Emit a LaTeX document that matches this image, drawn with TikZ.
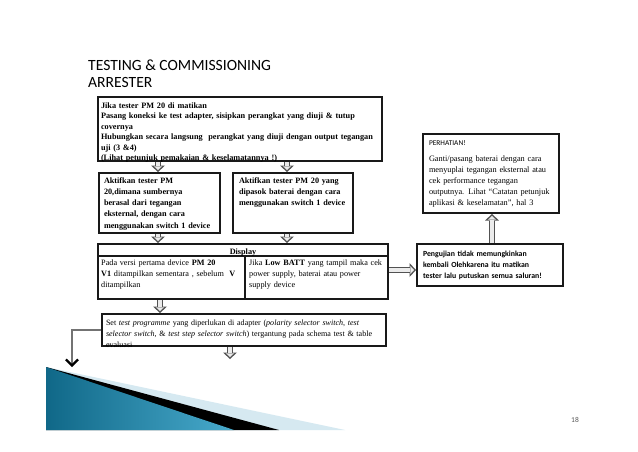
\documentclass[tikz,border=0pt]{standalone}
\usepackage{fontspec}
\setmainfont{Liberation Serif}
\newfontfamily\calib{Carlito}
\usetikzlibrary{arrows.meta,calc}
\definecolor{teala}{RGB}{16,104,136}
\definecolor{tealb}{RGB}{72,170,204}
\definecolor{lblue}{RGB}{214,233,241}
\definecolor{boxline}{RGB}{25,25,25}
\newcommand\blockarr[2]{%
  \draw[barouter] #1 -- #2;
  \draw[barinner] #1 -- #2;}
\begin{document}
\begin{tikzpicture}[x=1pt,y=-1pt,
  box/.style={draw=boxline, line width=2pt, fill=white, anchor=north west,
    align=left, inner xsep=4pt, inner ysep=2pt},
  rfont/.style={font=\fontsize{8.2}{11.2}\selectfont},
  barouter/.style={line width=6.5pt, draw=black!68,
    -{Triangle[length=6.5pt,width=14pt,line width=0pt]}},
  barinner/.style={line width=3.3pt, draw=white!92!black,
    -{Triangle[length=3.8pt,width=8pt,line width=0pt]}, shorten >=1.9pt},
  txt/.style={inner sep=0pt, align=left}
]
\useasboundingbox[fill=white] (0,0) rectangle (638,451);

% title
\node[txt, anchor=base west, font=\calib\fontsize{15.6}{18}\selectfont, text=black] (t1) at (88,70.5) {TESTING \& COMMISSIONING};
\node[txt, anchor=base west, font=\calib\fontsize{15.6}{18}\selectfont, text=black] (t2) at (88,87) {ARRESTER};

% boxes
\node[box, font=\bfseries\fontsize{8.25}{10.4}\selectfont, inner xsep=3pt, text width=278pt, text height=9.5pt, text depth=50.5pt] (b1) at (97,96)
{Jika tester PM 20 di matikan\\
Pasang koneksi ke test adapter, sisipkan perangkat yang diuji \& tutup\\
covernya\\
Hubungkan secara langsung\ \ perangkat yang diuji dengan output tegangan\\
uji (3 \&4)\\
(Lihat petunjuk pemakaian \& keselamatannya !)};

\node[box, font=\bfseries\fontsize{8.2}{11.3}\selectfont, inner xsep=5pt, text width=111pt, text height=8pt, text depth=48pt] (b2a) at (98,172)
{Aktifkan tester PM\\
20,dimana sumbernya\\
berasal dari tegangan\\
eksternal, dengan cara\\
menggunakan switch 1 device};

\node[box, font=\bfseries\fontsize{8.2}{11.3}\selectfont, inner xsep=6pt, text width=108pt, text height=8pt, text depth=48pt] (b2b) at (232,172)
{Aktifkan tester PM 20 yang\\
dipasok baterai dengan cara\\
menggunakan switch 1 device};

\node[box, font=\fontsize{8.3}{11}\selectfont, inner xsep=6pt, text width=124pt, text height=9pt, text depth=66pt] (perh) at (422,133)
{{\calib\fontsize{7.4}{8}\selectfont PERHATIAN!}\\[5pt]
Ganti/pasang baterai dengan cara\\
menyuplai tegangan eksternal atau\\
cek performance tegangan\\
outputnya. Lihat “Catatan petunjuk\\
aplikasi \& keselamatan”, hal 3};

% display
\node[box, minimum width=290pt, minimum height=55pt, inner sep=0pt] (disp) at (97,243) {};
\draw[boxline, line width=1.4pt] ($(disp.north west)+(0,13)$) -- ($(disp.north east)+(0,13)$);
\draw[boxline, line width=2pt] ($(disp.north west)+(148,13)$) -- ($(disp.south west)+(148,0)$);
\node[txt, anchor=base, font=\bfseries\fontsize{8.2}{9}\selectfont] (dhead) at (243,254) {Display};
\node[txt, rfont, anchor=base west, text width=142pt] (dleft) at (101,265)
{Pada versi pertama device \textbf{PM 20}\\
\textbf{V1} ditampilkan sementara , sebelum\ \ \textbf{V}\\
ditampilkan};
\node[txt, rfont, anchor=base west, text width=136pt] (dright) at (249,265)
{Jika \textbf{Low BATT} yang tampil maka cek\\
power supply, baterai atau power\\
supply device};

\node[box, font=\calib\bfseries\fontsize{7.8}{11.3}\selectfont, inner xsep=6pt, text width=134pt, text height=10pt, text depth=28pt] (peng) at (416,243)
{Pengujian tidak memungkinkan\\
kembali Olehkarena itu matikan\\
tester lalu putuskan semua saluran!};

\node[box, font=\fontsize{8.05}{11.3}\selectfont, inner xsep=4pt, text width=276pt, text height=9pt, text depth=19pt] (setb) at (101,313)
{Set \textit{test programme} yang diperlukan di adapter (\textit{polarity selector switch}, \textit{test}\\
\textit{selector switch}, \& \textit{test step selector switch}) tergantung pada schema test \& table\\
evaluasi};

% arrow coordinates
\coordinate (xa) at (158,0);
\coordinate (xb) at (287,0);
\coordinate (xc) at (160,0);
\coordinate (xd) at (230,0);
\coordinate (xe) at (492,0);
\coordinate (ya) at (0,270);
\coordinate (yb) at (0,330);
\coordinate (endd) at (230,359);
\coordinate (endl) at (72,367);

\blockarr{(b1.south -| xa)}{(b2a.north -| xa)}
\blockarr{(b1.south -| xb)}{(b2b.north -| xb)}
\blockarr{(b2a.south -| xa)}{(disp.north -| xa)}
\blockarr{(b2b.south -| xb)}{(disp.north -| xb)}
\blockarr{(disp.south -| xc)}{(setb.north -| xc)}
\blockarr{(setb.south -| xd)}{(endd)}
\blockarr{(disp.east |- ya)}{(peng.west |- ya)}
\blockarr{(peng.north -| xe)}{(perh.south -| xe)}

\draw[draw=black!55, line width=2.8pt, -{Straight Barb[length=6pt,width=12pt,line width=2.2pt,color=black]}]
  (setb.west |- yb) -| (endl);

% bottom decoration
\fill[lblue] (46,367) -- (345,430) -- (46,430) -- cycle;
\fill[black] (46,367) -- (279,430) -- (46,430) -- cycle;
\shade[left color=teala, right color=tealb] (46,367) -- (234,430) -- (46,430) -- cycle;

\node[txt, anchor=base west, font=\calib\fontsize{7.5}{9}\selectfont, text=black!65] (pg) at (571,422) {18};
\end{tikzpicture}
\end{document}
